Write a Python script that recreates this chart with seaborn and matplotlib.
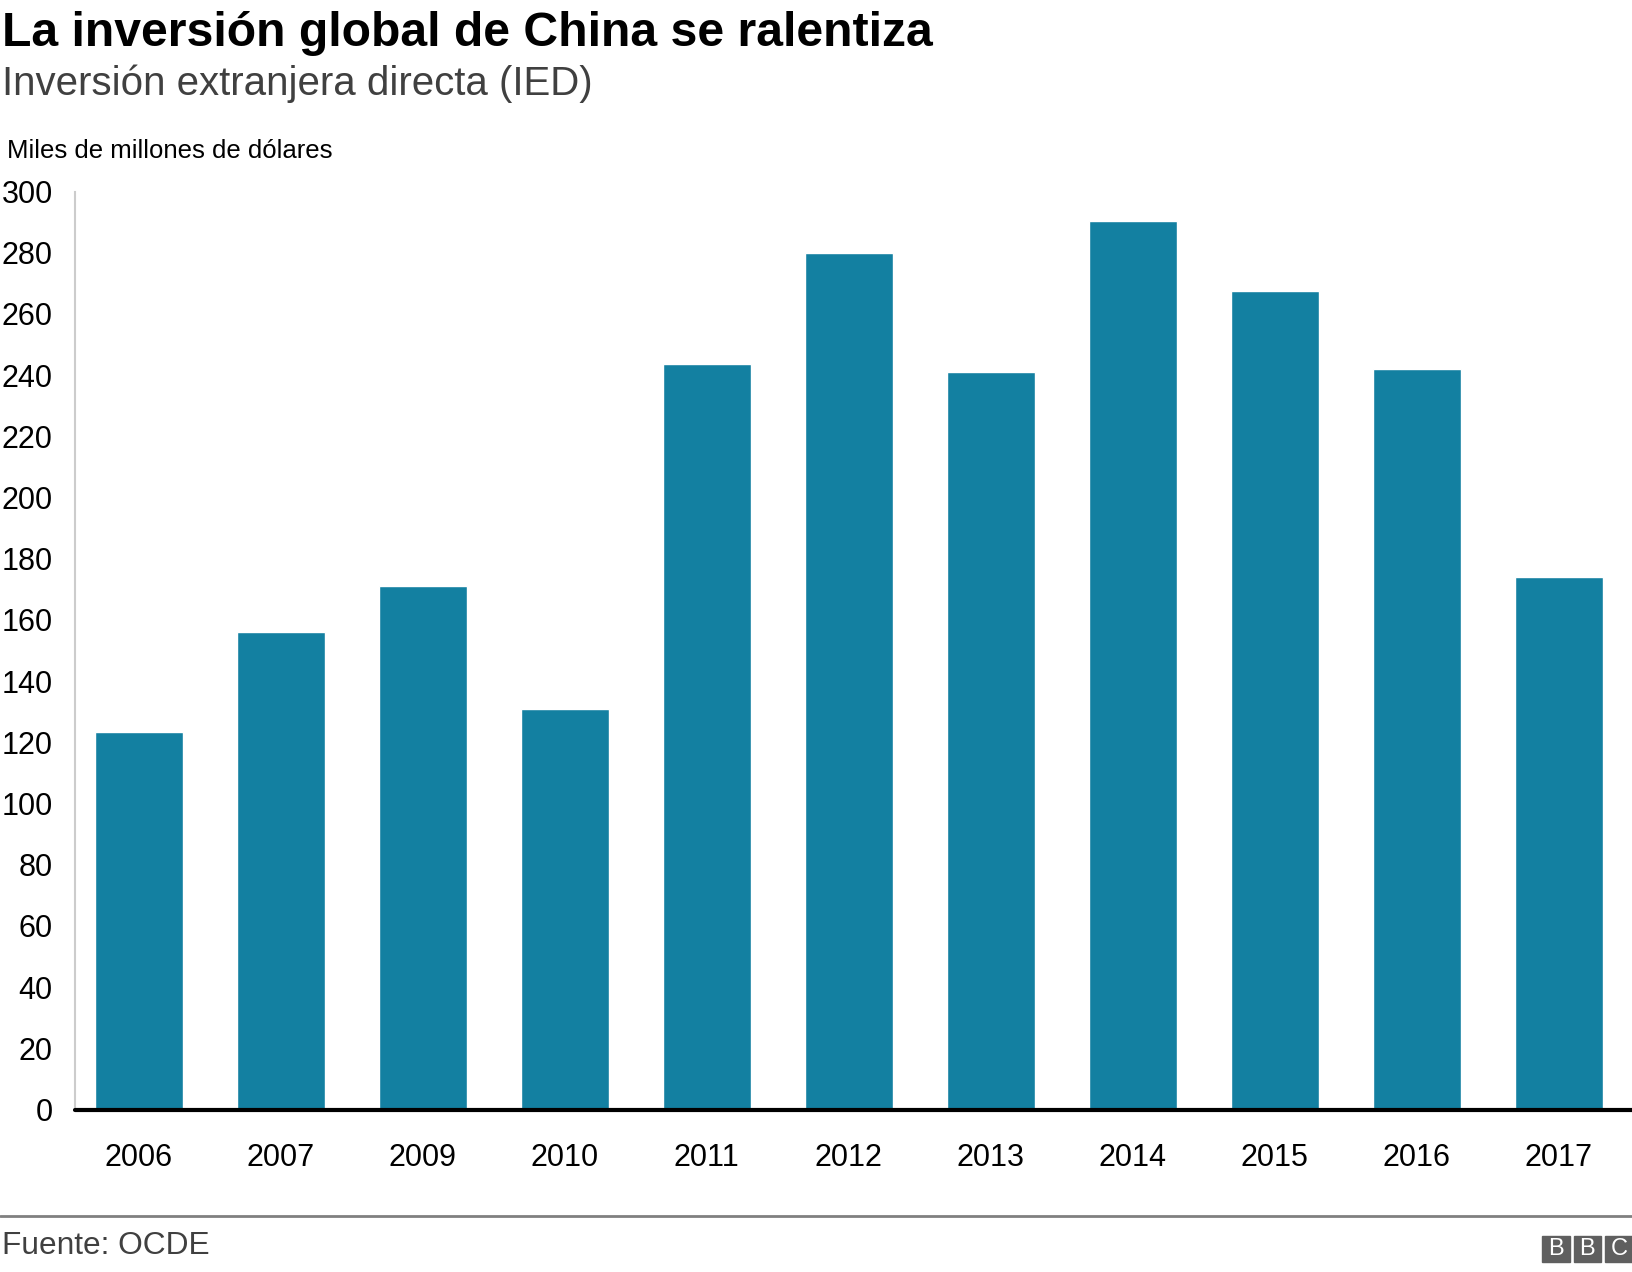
import matplotlib
matplotlib.use("Agg")
import matplotlib.pyplot as plt
import seaborn as sns
import pandas as pd
from matplotlib.patches import Rectangle

# data (billions of USD)
years = ["2006", "2007", "2009", "2010", "2011", "2012", "2013", "2014", "2015", "2016", "2017"]
ied = [123.5, 156, 171, 131, 243.5, 280, 241, 290.5, 267.5, 242, 174]
y_ticks = list(range(0, 301, 20))

df = pd.DataFrame({"year": years, "ied": ied})

sns.set_style("white")
plt.rcParams["font.family"] = ["Liberation Sans", "DejaVu Sans"]

fig = plt.figure(figsize=(16.32, 12.72), dpi=100)
ax = fig.add_axes([75 / 1632, 1 - 1109.5 / 1272, 1 - 75 / 1632, (1109.5 - 191.5) / 1272])

sns.barplot(data=df, x="year", y="ied", color="#1380A1", saturation=1, width=0.62, ax=ax)

ax.set_xlim(-0.451, 10.517)
ax.set_ylim(0, 300)
ax.set_yticks(y_ticks)
ax.set_xlabel("")
ax.set_ylabel("")
ax.tick_params(axis="y", length=0, pad=16, labelsize=22, labelcolor="black")
ax.tick_params(axis="x", length=0, pad=24, labelsize=22, labelcolor="black")

# spines: thin grey left axis, thick black baseline
for s in ["top", "right", "bottom"]:
    ax.spines[s].set_visible(False)
ax.spines["left"].set_color("#cccccc")
ax.spines["left"].set_linewidth(1.5)
ax.axhline(0, color="black", lw=3, clip_on=False, zorder=5)

# titles
fig.text(0.001, 1 - 46 / 1272, "La inversión global de China se ralentiza",
         fontsize=34.7, fontweight="bold", color="black", va="baseline", ha="left")
fig.text(0.001, 1 - 95 / 1272, "Inversión extranjera directa (IED)",
         fontsize=29, color="#404040", va="baseline", ha="left")
fig.text(7 / 1632, 1 - 158 / 1272, "Miles de millones de dólares",
         fontsize=18.5, color="black", va="baseline", ha="left")

# footer
fig.add_artist(plt.Line2D([0, 1], [1 - 1216 / 1272] * 2, color="#808080", lw=2))
fig.text(0.001, 1 - 1254 / 1272, "Fuente: OCDE", fontsize=22.8, color="#404040",
         va="baseline", ha="left")

# BBC blocks
for i, letter in enumerate("BBC"):
    x0 = (1542 + i * 31.5) / 1632
    fig.add_artist(Rectangle((x0, 1 - 1262 / 1272), 27.5 / 1632, 26 / 1272,
                             transform=fig.transFigure, color="#5f5f5f"))
    fig.text(x0 + 13.75 / 1632, 1 - 1249 / 1272, letter, fontsize=17,
             color="white", ha="center", va="center")

fig.savefig("out.png", dpi=100)
